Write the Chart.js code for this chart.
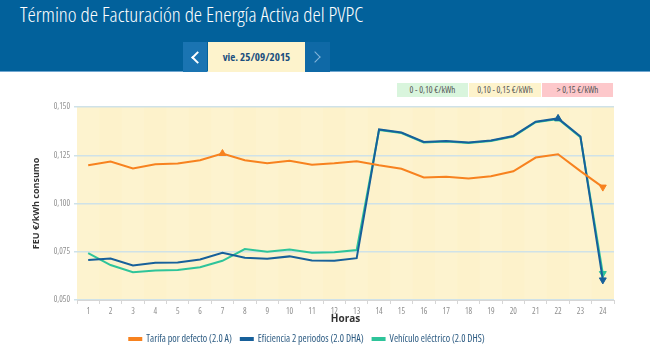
<!DOCTYPE html>
<html><head><meta charset="utf-8">
<script src="https://cdn.jsdelivr.net/npm/chart.js@4/dist/chart.umd.min.js"></script>
<style>
html,body{margin:0;padding:0;width:650px;height:357px;overflow:hidden;background:#fff;font-family:"Open Sans",sans-serif;}
#hdr{position:absolute;left:0;top:0;width:650px;height:71px;background:#02619b;border-bottom:1px solid #6fa6d0;}
#title{position:absolute;left:20px;top:0px;color:#fff;font-size:21px;font-weight:300;white-space:nowrap;font-stretch:85%;}
.nav{position:absolute;top:42px;height:30px;}
#prev{left:183px;width:24px;background:#1a74b2;}
#next{left:305px;width:25px;background:#0f69a6;}
.chev{position:absolute;top:11px;width:7px;height:7px;border-left:2.5px solid #fff;border-top:2.5px solid #fff;}
#prev .chev{left:10px;transform:rotate(-45deg);}
#next .chev{left:6px;transform:rotate(135deg);border-color:#86b6da;border-width:1.5px;}
#date{left:208px;width:97px;background:#fdf3cc;color:#1b4f7e;font-weight:700;font-size:11px;line-height:30px;text-align:center;font-stretch:80%;}
.rng{position:absolute;top:83px;height:14px;line-height:14px;font-size:9px;color:#555;text-align:center;font-stretch:80%;}
#chartwrap{position:absolute;left:0;top:72px;width:650px;height:285px;}
</style></head>
<body>
<div id="hdr"><div id="title">Término de Facturación de Energía Activa del PVPC</div></div>
<div class="nav" id="prev"><span class="chev"></span></div>
<div class="nav" id="date">vie. 25/09/2015</div>
<div class="nav" id="next"><span class="chev"></span></div>
<div class="rng" style="left:397px;width:71px;background:#d9f5dd;">0 - 0,10 €/kWh</div>
<div class="rng" style="left:469px;width:72px;background:#fdf3cc;">0,10 - 0,15 €/kWh</div>
<div class="rng" style="left:542px;width:71px;background:#fdc8cb;">&gt; 0,15 €/kWh</div>
<div id="chartwrap"><canvas id="c" width="650" height="285"></canvas></div>
<script>
const hours = ['1','2','3','4','5','6','7','8','9','10','11','12','13','14','15','16','17','18','19','20','21','22','23','24'];
const tarifa = [0.1198,0.1217,0.1182,0.1203,0.1207,0.1224,0.1259,0.1224,0.1208,0.1222,0.1201,0.1208,0.1219,0.1198,0.1180,0.1135,0.1139,0.1130,0.1141,0.1167,0.1238,0.1255,0.1168,0.1085];
const eficiencia = [0.0707,0.0715,0.0679,0.0693,0.0694,0.0710,0.0745,0.0719,0.0714,0.0726,0.0705,0.0703,0.0717,0.1384,0.1368,0.1319,0.1324,0.1316,0.1327,0.1350,0.1424,0.1441,0.1347,0.0604];
const vehiculo = [0.0743,0.0681,0.0644,0.0653,0.0655,0.0670,0.0703,0.0764,0.0750,0.0762,0.0745,0.0748,0.0759,0.1381,0.1365,0.1316,0.1321,0.1313,0.1324,0.1347,0.1421,0.1438,0.1344,0.0637];
const seriesNames = ['Tarifa por defecto (2.0 A)','Eficiencia 2 periodos (2.0 DHA)','Vehículo eléctrico (2.0 DHS)'];
const yTicks = [0.05,0.075,0.1,0.125,0.15];

const FONT = 'Open Sans';
function mk(label, data, color){
  const mx = data.indexOf(Math.max(...data)), mn = data.indexOf(Math.min(...data));
  return {label, data, borderColor:color, backgroundColor:color, borderWidth:2, tension:0,
    pointStyle:'triangle',
    pointRadius:(ctx)=> (ctx.dataIndex===mx||ctx.dataIndex===mn)?4:0,
    pointHoverRadius:0,
    pointRotation:(ctx)=> ctx.dataIndex===mn?180:0,
    pointBorderWidth:1};
}
const bgPlugin = {id:'bg', beforeDraw(chart){
  const {ctx, chartArea:a, scales:{x}} = chart;
  ctx.save();
  ctx.fillStyle='#fdf2cb';
  ctx.fillRect(a.left,a.top,a.right-a.left,a.bottom-a.top);
  const w = (a.right-a.left)/hours.length;
  ctx.fillStyle='#fdf3cf';
  hours.forEach((h,i)=>{ if(i%2===0){ const cx=x.getPixelForValue(i); ctx.fillRect(cx-w/2,a.top,w,a.bottom-a.top);} });
  ctx.restore();
}};
new Chart(document.getElementById('c'),{
  type:'line',
  data:{labels:hours, datasets:[mk(seriesNames[0],tarifa,'#f7821f'), mk(seriesNames[1],eficiencia,'#17609a'), mk(seriesNames[2],vehiculo,'#2ec49a')]},
  options:{
    responsive:false, animation:false, events:[],
    layout:{padding:{top:35,right:36,left:0,bottom:3}},
    plugins:{
      legend:{position:'bottom', labels:{boxWidth:12, boxHeight:2, padding:9, color:'#2c5b82', font:{family:FONT,size:10, weight:'normal condensed'}}},
      tooltip:{enabled:false}
    },
    scales:{
      x:{offset:true,
        grid:{offset:true, drawOnChartArea:false, drawTicks:true, tickLength:4, color:'#d6d6d6'},
        border:{color:'#d6d6d6'},
        ticks:{color:'#8f8f8f', padding:2, maxRotation:0, font:{family:FONT,size:8.5,weight:'normal condensed'}},
        title:{display:true, text:'Horas', color:'#333', padding:0, font:{family:FONT,size:10,weight:'bold'}},
        afterFit(s){ s.height = 25; }
      },
      y:{min:0.05, max:0.15,
        afterBuildTicks(s){ s.ticks = yTicks.map(v=>({value:v})); },
        grid:{color:'#cfe2e8', lineWidth:1.5, drawTicks:true, tickLength:3},
        border:{display:false},
        ticks:{color:'#8f8f8f', padding:4, font:{family:FONT,size:8.5,weight:'normal condensed'}, callback:(v)=>v.toFixed(3).replace('.',',')},
        title:{display:true, text:'FEU €/kWh consumo', color:'#333', padding:{top:31,bottom:0}, font:{family:FONT,size:9,weight:'bold'}},
        afterFit(s){ s.width = 77; }
      }
    }
  },
  plugins:[bgPlugin]
});
</script>
</body></html>
